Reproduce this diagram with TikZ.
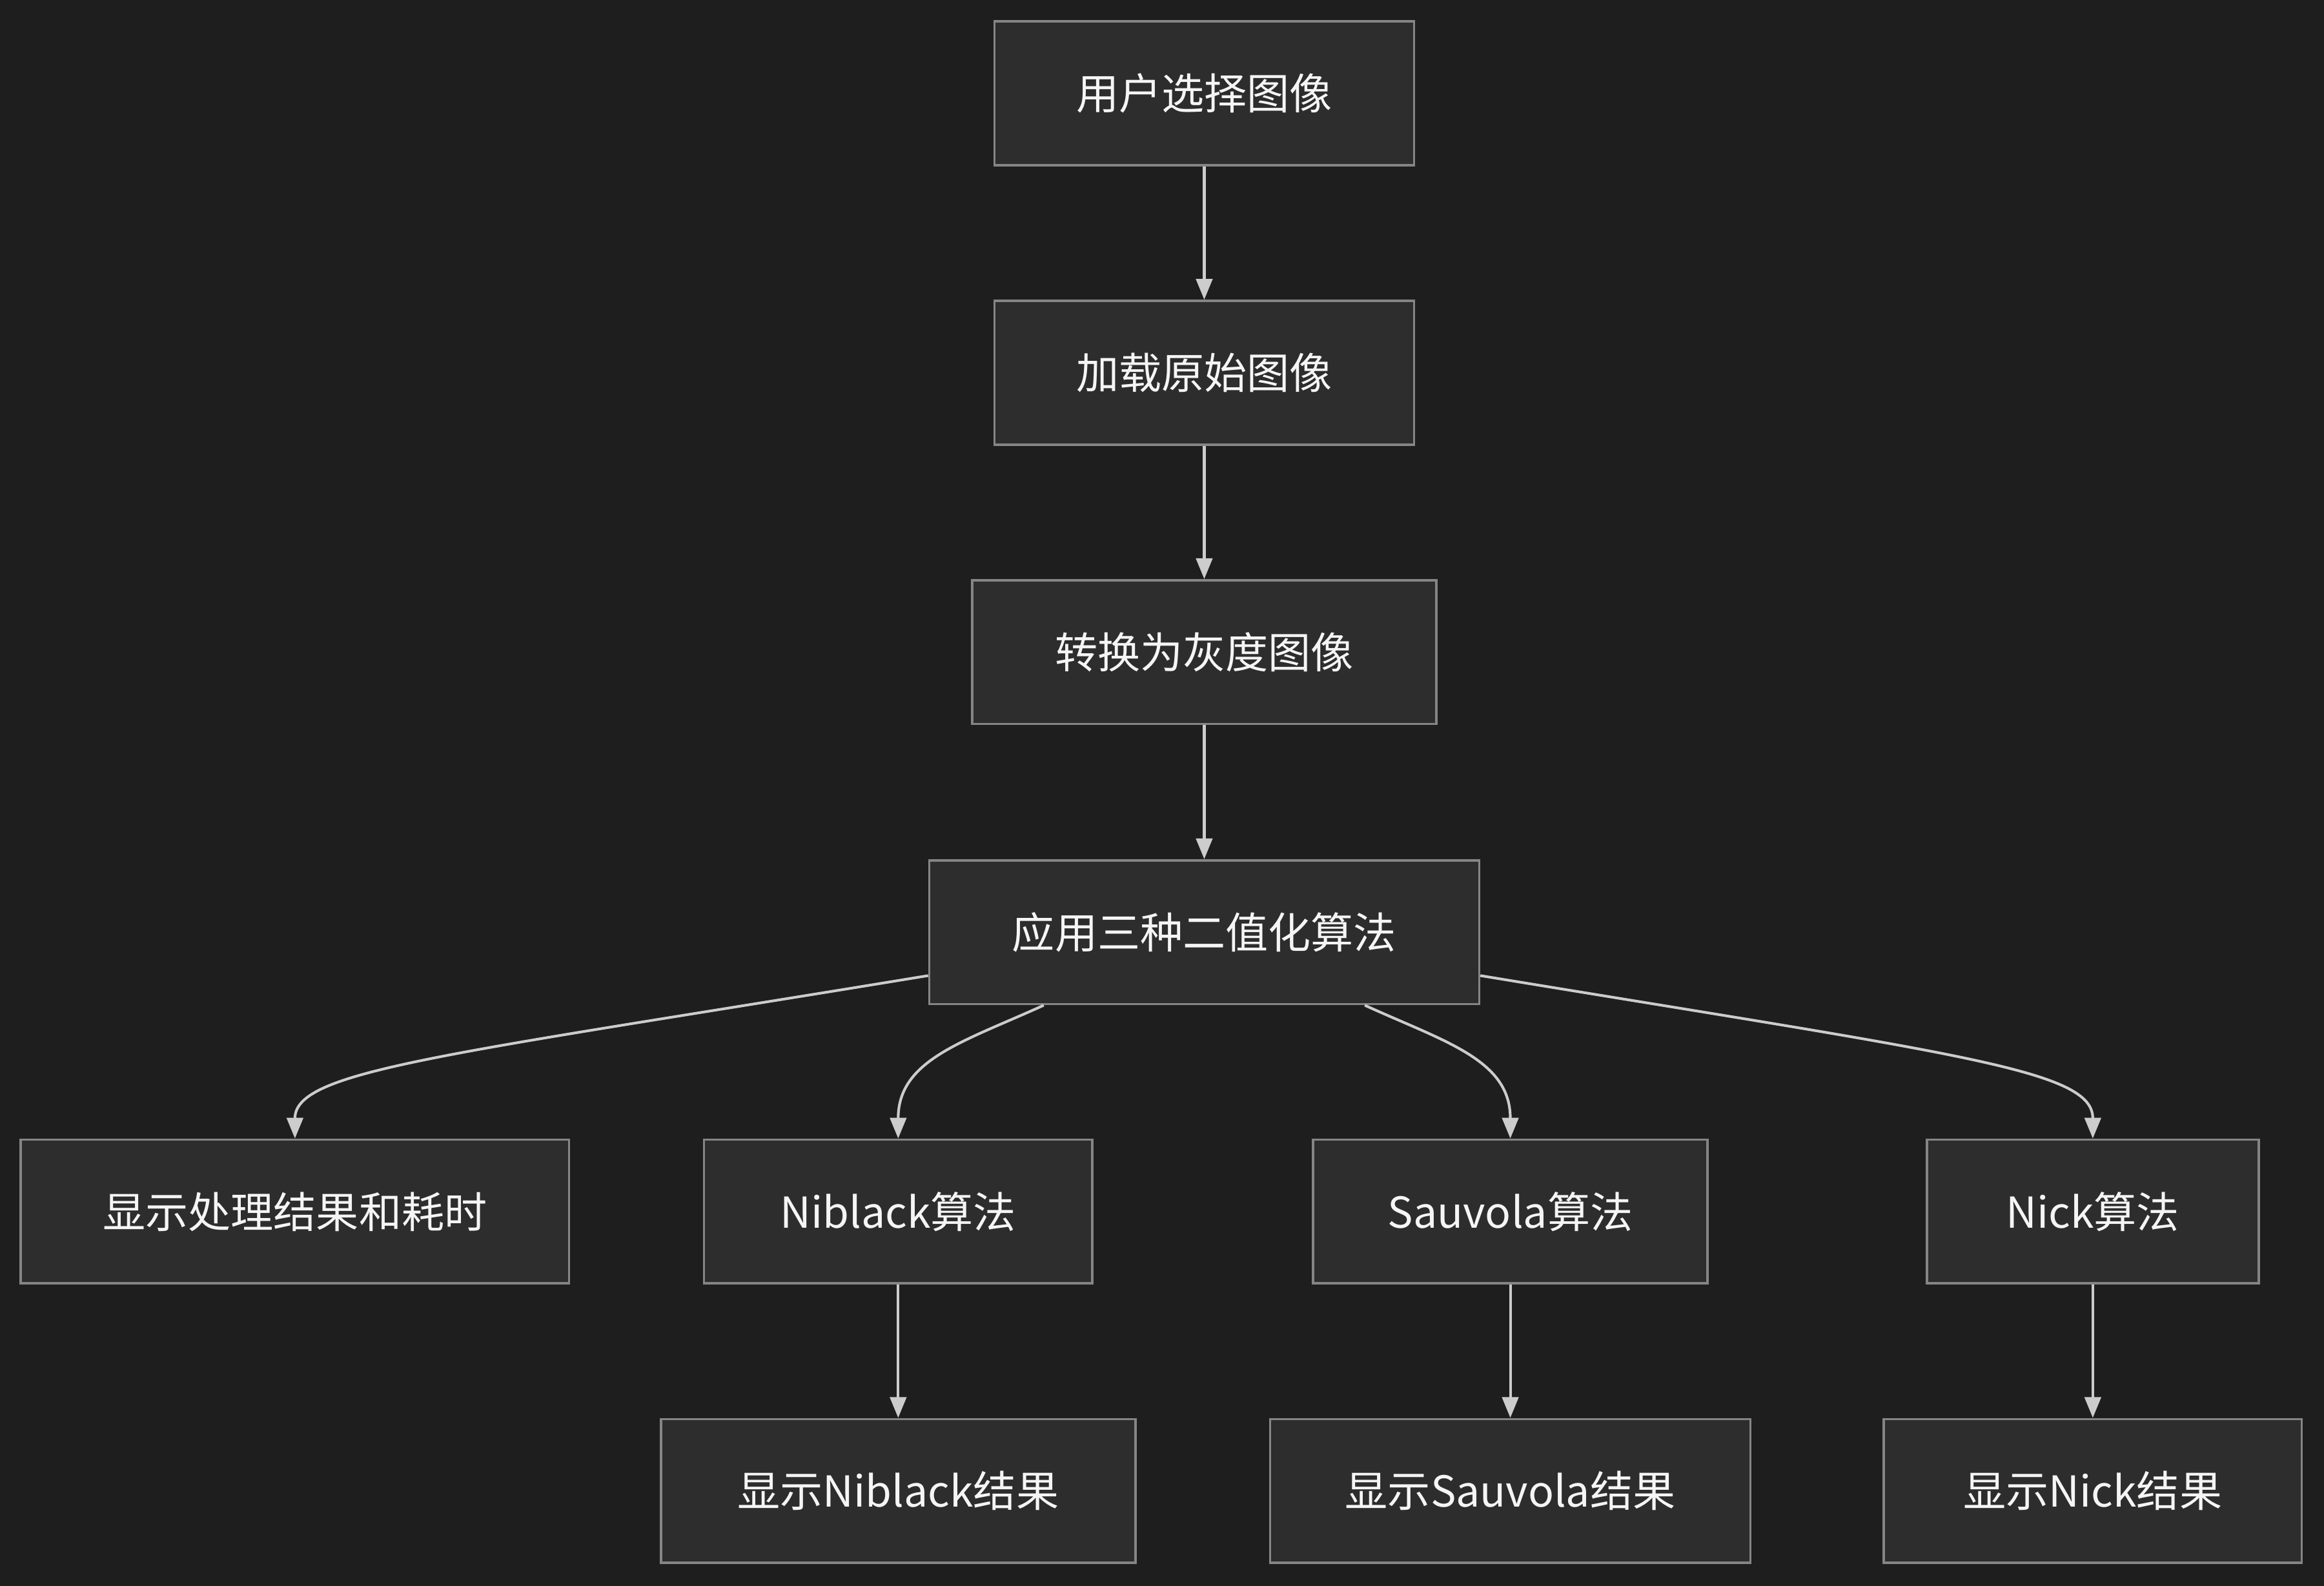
\documentclass[tikz,border=0pt]{standalone}
\usepackage{fontspec}
\newfontfamily\cjk{Noto Sans CJK SC}
\usetikzlibrary{arrows.meta}
\definecolor{bgcol}{HTML}{1E1E1E}
\definecolor{boxfill}{HTML}{2D2D2D}
\definecolor{boxline}{HTML}{858585}
\definecolor{edgecol}{HTML}{CCCCCC}
\definecolor{txtcol}{HTML}{F5F5F5}
\begin{document}
\begin{tikzpicture}[x=1pt,y=-1pt,
  box/.style={draw=boxline, fill=boxfill, line width=1.6pt, minimum height=97pt, inner sep=0pt, text=txtcol, font=\cjk\fontsize{28.8}{34}\selectfont},
  conn/.style={draw=edgecol, line width=1.8pt, -{Triangle[length=14pt,width=11pt]}}]
\fill[bgcol] (0,0) rectangle (1568,1070);
\useasboundingbox (0,0) rectangle (1568,1070);
\node[box, minimum width=283pt] (a) at (812.5,63) {用户选择图像};
\node[box, minimum width=283pt] (b) at (812.5,251.5) {加载原始图像};
\node[box, minimum width=313pt] (c) at (812.5,440) {转换为灰度图像};
\node[box, minimum width=371pt] (d) at (812.5,629) {应用三种二值化算法};
\node[box, minimum width=370pt] (e) at (199,817.5) {显示处理结果和耗时};
\node[box, minimum width=262pt] (f) at (606,817.5) {Niblack算法};
\node[box, minimum width=266pt] (g) at (1019,817.5) {Sauvola算法};
\node[box, minimum width=224pt] (h) at (1412,817.5) {Nick算法};
\node[box, minimum width=320pt] (i) at (606,1006) {显示Niblack结果};
\node[box, minimum width=324pt] (j) at (1019,1006) {显示Sauvola结果};
\node[box, minimum width=282pt] (k) at (1412,1006) {显示Nick结果};
\draw[conn] (a) -- (b);
\draw[conn] (b) -- (c);
\draw[conn] (c) -- (d);
\draw[conn] ([yshift=20pt]d.south west) .. controls (300,712) and (199,722) .. (e.north);
\draw[conn] ([xshift=78pt]d.south west) .. controls (650,703) and (606,715) .. (f.north);
\draw[conn] ([xshift=-78pt]d.south east) .. controls (975,703) and (1019,715) .. (g.north);
\draw[conn] ([yshift=20pt]d.south east) .. controls (1325,712) and (1412,722) .. (h.north);
\draw[conn] (f) -- (i);
\draw[conn] (g) -- (j);
\draw[conn] (h) -- (k);
\end{tikzpicture}
\end{document}
